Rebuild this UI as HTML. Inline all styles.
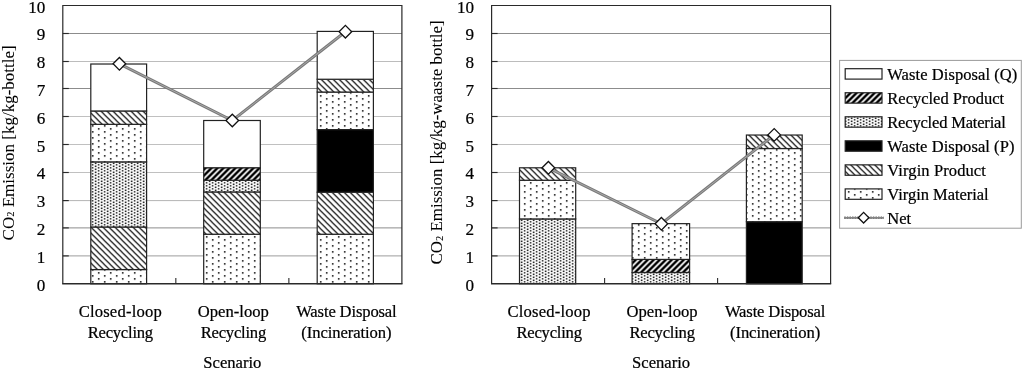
<!DOCTYPE html>
<html><head><meta charset="utf-8"><title>CO2 Emission by Scenario</title>
<style>
html,body{margin:0;padding:0;background:#fff;}
body{width:1024px;height:369px;overflow:hidden;}
svg{display:block;}
text{font-family:"Liberation Serif","Times New Roman",serif;fill:#000;stroke:#000;stroke-width:0.22px;}
</style></head><body>
<svg width="1024" height="369" viewBox="0 0 1024 369">
<defs>
<pattern id="sp" patternUnits="userSpaceOnUse" x="1.9" y="2.1" width="12" height="6">
<rect x="0" y="0" width="1.6" height="1.6" fill="#1a1a1a"/><rect x="6" y="3" width="1.6" height="1.6" fill="#1a1a1a"/>
</pattern>
<pattern id="dn" patternUnits="userSpaceOnUse" x="1.8" y="2.1" width="6" height="3">
<rect x="0" y="0" width="1.5" height="1.5" fill="#1a1a1a"/><rect x="3.05" y="1.5" width="1.5" height="1.5" fill="#000"/>
</pattern>
<pattern id="bh" patternUnits="userSpaceOnUse" x="1.8" width="6" height="6">
<path d="M-1,-1 L7,7 M-1,5 L1,7 M5,-1 L7,1" stroke="#1c1c1c" stroke-width="1.25"/>
</pattern>
<pattern id="fh" patternUnits="userSpaceOnUse" x="1.5" width="6" height="6">
<path d="M-1,7 L7,-1 M-1,1 L1,-1 M5,7 L7,5" stroke="#000" stroke-width="2.5"/>
</pattern>
</defs>
<rect width="1024" height="369" fill="#fff"/>

<line x1="62.8" y1="255.90" x2="401.9" y2="255.90" stroke="#9c9c9c" stroke-width="1"/>
<line x1="62.8" y1="227.90" x2="401.9" y2="227.90" stroke="#8c8c8c" stroke-width="1"/>
<line x1="62.8" y1="200.60" x2="401.9" y2="200.60" stroke="#b4b4b4" stroke-width="1"/>
<line x1="62.8" y1="172.50" x2="401.9" y2="172.50" stroke="#c0c0c0" stroke-width="1"/>
<line x1="62.8" y1="144.50" x2="401.9" y2="144.50" stroke="#c0c0c0" stroke-width="1"/>
<line x1="62.8" y1="116.50" x2="401.9" y2="116.50" stroke="#c0c0c0" stroke-width="1"/>
<line x1="62.8" y1="88.50" x2="401.9" y2="88.50" stroke="#8c8c8c" stroke-width="1"/>
<line x1="62.8" y1="61.50" x2="401.9" y2="61.50" stroke="#bcbcbc" stroke-width="1"/>
<line x1="62.8" y1="33.50" x2="401.9" y2="33.50" stroke="#8c8c8c" stroke-width="1"/>
<rect x="90.80" y="269.56" width="55.80" height="14.19" fill="#fff"/>
<rect x="90.80" y="269.56" width="55.80" height="14.19" fill="url(#sp)" stroke="#222" stroke-width="1.2"/>
<rect x="90.80" y="226.99" width="55.80" height="42.57" fill="#fff"/>
<rect x="90.80" y="226.99" width="55.80" height="42.57" fill="url(#bh)" stroke="#222" stroke-width="1.2"/>
<rect x="90.80" y="161.88" width="55.80" height="65.11" fill="#fff"/>
<rect x="90.80" y="161.88" width="55.80" height="65.11" fill="url(#dn)" stroke="#222" stroke-width="1.2"/>
<rect x="90.80" y="124.31" width="55.80" height="37.56" fill="#fff"/>
<rect x="90.80" y="124.31" width="55.80" height="37.56" fill="url(#sp)" stroke="#222" stroke-width="1.2"/>
<rect x="90.80" y="110.96" width="55.80" height="13.36" fill="#fff"/>
<rect x="90.80" y="110.96" width="55.80" height="13.36" fill="url(#bh)" stroke="#222" stroke-width="1.2"/>
<rect x="90.80" y="64.02" width="55.80" height="46.94" fill="#fff"/>
<rect x="90.80" y="64.02" width="55.80" height="46.94" fill="#fff" stroke="#222" stroke-width="1.2"/>
<rect x="203.70" y="234.22" width="56.60" height="49.53" fill="#fff"/>
<rect x="203.70" y="234.22" width="56.60" height="49.53" fill="url(#sp)" stroke="#222" stroke-width="1.2"/>
<rect x="203.70" y="191.93" width="56.60" height="42.29" fill="#fff"/>
<rect x="203.70" y="191.93" width="56.60" height="42.29" fill="url(#bh)" stroke="#222" stroke-width="1.2"/>
<rect x="203.70" y="180.24" width="56.60" height="11.69" fill="#fff"/>
<rect x="203.70" y="180.24" width="56.60" height="11.69" fill="url(#dn)" stroke="#222" stroke-width="1.2"/>
<rect x="203.70" y="167.72" width="56.60" height="12.52" fill="#fff"/>
<rect x="203.70" y="167.72" width="56.60" height="12.52" fill="url(#fh)" stroke="#222" stroke-width="1.2"/>
<rect x="203.70" y="120.50" width="56.60" height="47.22" fill="#fff"/>
<rect x="203.70" y="120.50" width="56.60" height="47.22" fill="#fff" stroke="#222" stroke-width="1.2"/>
<rect x="317.20" y="234.22" width="56.20" height="49.53" fill="#fff"/>
<rect x="317.20" y="234.22" width="56.20" height="49.53" fill="url(#sp)" stroke="#222" stroke-width="1.2"/>
<rect x="317.20" y="192.21" width="56.20" height="42.02" fill="#fff"/>
<rect x="317.20" y="192.21" width="56.20" height="42.02" fill="url(#bh)" stroke="#222" stroke-width="1.2"/>
<rect x="317.20" y="129.60" width="56.20" height="62.61" fill="#fff"/>
<rect x="317.20" y="129.60" width="56.20" height="62.61" fill="#000" stroke="#222" stroke-width="1.2"/>
<rect x="317.20" y="92.04" width="56.20" height="37.56" fill="#fff"/>
<rect x="317.20" y="92.04" width="56.20" height="37.56" fill="url(#sp)" stroke="#222" stroke-width="1.2"/>
<rect x="317.20" y="79.24" width="56.20" height="12.80" fill="#fff"/>
<rect x="317.20" y="79.24" width="56.20" height="12.80" fill="url(#bh)" stroke="#222" stroke-width="1.2"/>
<rect x="317.20" y="31.41" width="56.20" height="47.83" fill="#fff"/>
<rect x="317.20" y="31.41" width="56.20" height="47.83" fill="#fff" stroke="#222" stroke-width="1.2"/>
<path d="M62.8,283.75 L62.8,5.5 L401.9,5.5 L401.9,283.75" fill="none" stroke="#2a2a2a" stroke-width="1.2"/>
<line x1="62.199999999999996" y1="283.75" x2="402.5" y2="283.75" stroke="#2a2a2a" stroke-width="1.5"/>
<line x1="62.8" y1="255.90" x2="68.8" y2="255.90" stroke="#2a2a2a" stroke-width="1.15"/>
<line x1="62.8" y1="227.90" x2="68.8" y2="227.90" stroke="#2a2a2a" stroke-width="1.15"/>
<line x1="62.8" y1="200.60" x2="68.8" y2="200.60" stroke="#2a2a2a" stroke-width="1.15"/>
<line x1="62.8" y1="172.50" x2="68.8" y2="172.50" stroke="#2a2a2a" stroke-width="1.15"/>
<line x1="62.8" y1="144.50" x2="68.8" y2="144.50" stroke="#2a2a2a" stroke-width="1.15"/>
<line x1="62.8" y1="116.50" x2="68.8" y2="116.50" stroke="#2a2a2a" stroke-width="1.15"/>
<line x1="62.8" y1="88.50" x2="68.8" y2="88.50" stroke="#2a2a2a" stroke-width="1.15"/>
<line x1="62.8" y1="61.50" x2="68.8" y2="61.50" stroke="#2a2a2a" stroke-width="1.15"/>
<line x1="62.8" y1="33.50" x2="68.8" y2="33.50" stroke="#2a2a2a" stroke-width="1.15"/>
<line x1="175.83" y1="283.75" x2="175.83" y2="277.95" stroke="#2a2a2a" stroke-width="1.1"/>
<line x1="288.87" y1="283.75" x2="288.87" y2="277.95" stroke="#2a2a2a" stroke-width="1.1"/>
<polyline points="119.40,63.80 232.30,120.50 345.40,31.70" fill="none" stroke="#7a7a7a" stroke-width="3"/>
<polyline points="119.40,63.80 232.30,120.50 345.40,31.70" fill="none" stroke="#a8a8a8" stroke-width="1"/>
<path d="M113.10,63.80 L119.40,57.50 L125.70,63.80 L119.40,70.10 Z" fill="#fff" stroke="#111" stroke-width="1.3"/>
<path d="M226.00,120.50 L232.30,114.20 L238.60,120.50 L232.30,126.80 Z" fill="#fff" stroke="#111" stroke-width="1.3"/>
<path d="M339.10,31.70 L345.40,25.40 L351.70,31.70 L345.40,38.00 Z" fill="#fff" stroke="#111" stroke-width="1.3"/>
<text x="45.30" y="290.75" font-size="17.1" text-anchor="end">0</text>
<text x="45.30" y="262.93" font-size="17.1" text-anchor="end">1</text>
<text x="45.30" y="235.10" font-size="17.1" text-anchor="end">2</text>
<text x="45.30" y="207.28" font-size="17.1" text-anchor="end">3</text>
<text x="45.30" y="179.45" font-size="17.1" text-anchor="end">4</text>
<text x="45.30" y="151.62" font-size="17.1" text-anchor="end">5</text>
<text x="45.30" y="123.80" font-size="17.1" text-anchor="end">6</text>
<text x="45.30" y="95.97" font-size="17.1" text-anchor="end">7</text>
<text x="45.30" y="68.15" font-size="17.1" text-anchor="end">8</text>
<text x="45.30" y="40.33" font-size="17.1" text-anchor="end">9</text>
<text x="45.30" y="12.50" font-size="17.1" text-anchor="end">10</text>
<text x="120.32" y="317" font-size="16.6" text-anchor="middle" letter-spacing="0.2">Closed-loop</text>
<text x="120.32" y="338.1" font-size="16.6" text-anchor="middle" letter-spacing="-0.22">Recycling</text>
<text x="233.35" y="317" font-size="16.6" text-anchor="middle" letter-spacing="0.0">Open-loop</text>
<text x="233.35" y="338.1" font-size="16.6" text-anchor="middle" letter-spacing="-0.22">Recycling</text>
<text x="346.38" y="317" font-size="16.6" text-anchor="middle" letter-spacing="-0.14">Waste Disposal</text>
<text x="346.38" y="338.1" font-size="16.6" text-anchor="middle" letter-spacing="-0.07">(Incineration)</text>
<text x="232.35" y="367.6" font-size="16.6" text-anchor="middle">Scenario</text>
<text transform="translate(13.9,240.4) rotate(-90)" font-size="17.0" style="stroke-width:0.05px">CO<tspan font-size="10.5" dy="0.5">2</tspan><tspan dy="-0.5"> Emission [kg/kg-bottle]</tspan></text>
<line x1="491.6" y1="255.90" x2="830.6" y2="255.90" stroke="#9c9c9c" stroke-width="1"/>
<line x1="491.6" y1="227.90" x2="830.6" y2="227.90" stroke="#8c8c8c" stroke-width="1"/>
<line x1="491.6" y1="200.60" x2="830.6" y2="200.60" stroke="#b4b4b4" stroke-width="1"/>
<line x1="491.6" y1="172.50" x2="830.6" y2="172.50" stroke="#c0c0c0" stroke-width="1"/>
<line x1="491.6" y1="144.50" x2="830.6" y2="144.50" stroke="#c0c0c0" stroke-width="1"/>
<line x1="491.6" y1="116.50" x2="830.6" y2="116.50" stroke="#c0c0c0" stroke-width="1"/>
<line x1="491.6" y1="88.50" x2="830.6" y2="88.50" stroke="#8c8c8c" stroke-width="1"/>
<line x1="491.6" y1="61.50" x2="830.6" y2="61.50" stroke="#bcbcbc" stroke-width="1"/>
<line x1="491.6" y1="33.50" x2="830.6" y2="33.50" stroke="#8c8c8c" stroke-width="1"/>
<rect x="519.50" y="218.92" width="56.20" height="64.83" fill="#fff"/>
<rect x="519.50" y="218.92" width="56.20" height="64.83" fill="url(#dn)" stroke="#222" stroke-width="1.2"/>
<rect x="519.50" y="180.24" width="56.20" height="38.68" fill="#fff"/>
<rect x="519.50" y="180.24" width="56.20" height="38.68" fill="url(#sp)" stroke="#222" stroke-width="1.2"/>
<rect x="519.50" y="167.80" width="56.20" height="12.44" fill="#fff"/>
<rect x="519.50" y="167.80" width="56.20" height="12.44" fill="url(#bh)" stroke="#222" stroke-width="1.2"/>
<rect x="632.10" y="272.48" width="57.50" height="11.27" fill="#fff"/>
<rect x="632.10" y="272.48" width="57.50" height="11.27" fill="url(#dn)" stroke="#222" stroke-width="1.2"/>
<rect x="632.10" y="259.40" width="57.50" height="13.08" fill="#fff"/>
<rect x="632.10" y="259.40" width="57.50" height="13.08" fill="url(#fh)" stroke="#222" stroke-width="1.2"/>
<rect x="632.10" y="223.65" width="57.50" height="35.76" fill="#fff"/>
<rect x="632.10" y="223.65" width="57.50" height="35.76" fill="url(#sp)" stroke="#222" stroke-width="1.2"/>
<rect x="746.40" y="221.70" width="55.80" height="62.05" fill="#fff"/>
<rect x="746.40" y="221.70" width="55.80" height="62.05" fill="#000" stroke="#222" stroke-width="1.2"/>
<rect x="746.40" y="148.52" width="55.80" height="73.18" fill="#fff"/>
<rect x="746.40" y="148.52" width="55.80" height="73.18" fill="url(#sp)" stroke="#222" stroke-width="1.2"/>
<rect x="746.40" y="135.03" width="55.80" height="13.50" fill="#fff"/>
<rect x="746.40" y="135.03" width="55.80" height="13.50" fill="url(#bh)" stroke="#222" stroke-width="1.2"/>
<path d="M491.6,283.75 L491.6,5.5 L830.6,5.5 L830.6,283.75" fill="none" stroke="#2a2a2a" stroke-width="1.2"/>
<line x1="491.0" y1="283.75" x2="831.2" y2="283.75" stroke="#2a2a2a" stroke-width="1.5"/>
<line x1="491.6" y1="255.90" x2="497.6" y2="255.90" stroke="#2a2a2a" stroke-width="1.15"/>
<line x1="491.6" y1="227.90" x2="497.6" y2="227.90" stroke="#2a2a2a" stroke-width="1.15"/>
<line x1="491.6" y1="200.60" x2="497.6" y2="200.60" stroke="#2a2a2a" stroke-width="1.15"/>
<line x1="491.6" y1="172.50" x2="497.6" y2="172.50" stroke="#2a2a2a" stroke-width="1.15"/>
<line x1="491.6" y1="144.50" x2="497.6" y2="144.50" stroke="#2a2a2a" stroke-width="1.15"/>
<line x1="491.6" y1="116.50" x2="497.6" y2="116.50" stroke="#2a2a2a" stroke-width="1.15"/>
<line x1="491.6" y1="88.50" x2="497.6" y2="88.50" stroke="#2a2a2a" stroke-width="1.15"/>
<line x1="491.6" y1="61.50" x2="497.6" y2="61.50" stroke="#2a2a2a" stroke-width="1.15"/>
<line x1="491.6" y1="33.50" x2="497.6" y2="33.50" stroke="#2a2a2a" stroke-width="1.15"/>
<line x1="604.60" y1="283.75" x2="604.60" y2="277.95" stroke="#2a2a2a" stroke-width="1.1"/>
<line x1="717.60" y1="283.75" x2="717.60" y2="277.95" stroke="#2a2a2a" stroke-width="1.1"/>
<polyline points="548.40,167.80 661.40,223.80 774.20,134.90" fill="none" stroke="#7a7a7a" stroke-width="3"/>
<polyline points="548.40,167.80 661.40,223.80 774.20,134.90" fill="none" stroke="#a8a8a8" stroke-width="1"/>
<path d="M542.10,167.80 L548.40,161.50 L554.70,167.80 L548.40,174.10 Z" fill="#fff" stroke="#111" stroke-width="1.3"/>
<path d="M655.10,223.80 L661.40,217.50 L667.70,223.80 L661.40,230.10 Z" fill="#fff" stroke="#111" stroke-width="1.3"/>
<path d="M767.90,134.90 L774.20,128.60 L780.50,134.90 L774.20,141.20 Z" fill="#fff" stroke="#111" stroke-width="1.3"/>
<text x="474.10" y="290.75" font-size="17.1" text-anchor="end">0</text>
<text x="474.10" y="262.93" font-size="17.1" text-anchor="end">1</text>
<text x="474.10" y="235.10" font-size="17.1" text-anchor="end">2</text>
<text x="474.10" y="207.28" font-size="17.1" text-anchor="end">3</text>
<text x="474.10" y="179.45" font-size="17.1" text-anchor="end">4</text>
<text x="474.10" y="151.62" font-size="17.1" text-anchor="end">5</text>
<text x="474.10" y="123.80" font-size="17.1" text-anchor="end">6</text>
<text x="474.10" y="95.97" font-size="17.1" text-anchor="end">7</text>
<text x="474.10" y="68.15" font-size="17.1" text-anchor="end">8</text>
<text x="474.10" y="40.33" font-size="17.1" text-anchor="end">9</text>
<text x="474.10" y="12.50" font-size="17.1" text-anchor="end">10</text>
<text x="549.10" y="317" font-size="16.6" text-anchor="middle" letter-spacing="0.2">Closed-loop</text>
<text x="549.10" y="338.1" font-size="16.6" text-anchor="middle" letter-spacing="-0.22">Recycling</text>
<text x="662.10" y="317" font-size="16.6" text-anchor="middle" letter-spacing="0.0">Open-loop</text>
<text x="662.10" y="338.1" font-size="16.6" text-anchor="middle" letter-spacing="-0.22">Recycling</text>
<text x="775.10" y="317" font-size="16.6" text-anchor="middle" letter-spacing="-0.14">Waste Disposal</text>
<text x="775.10" y="338.1" font-size="16.6" text-anchor="middle" letter-spacing="-0.07">(Incineration)</text>
<text x="661.10" y="367.6" font-size="16.6" text-anchor="middle">Scenario</text>
<text transform="translate(442.4,264.4) rotate(-90)" font-size="16.9" style="stroke-width:0.05px">CO<tspan font-size="10.5" dy="0.5">2</tspan><tspan dy="-0.5"> Emission [kg/kg-waaste bottle]</tspan></text>
<rect x="839.6" y="60.4" width="181.7" height="167.8" fill="#fff" stroke="#9a9a9a" stroke-width="1"/>
<rect x="845.2" y="68.70" width="36.8" height="10.4" fill="#fff"/>
<rect x="845.2" y="68.70" width="36.8" height="10.4" fill="#fff" stroke="#222" stroke-width="1.2"/>
<text x="887.3" y="80.25" font-size="16.5" letter-spacing="0.07">Waste Disposal (Q)</text>
<rect x="845.2" y="92.74" width="36.8" height="10.4" fill="#fff"/>
<rect x="845.2" y="92.74" width="36.8" height="10.4" fill="url(#fh)" stroke="#222" stroke-width="1.2"/>
<text x="887.3" y="104.25" font-size="16.5" letter-spacing="0.0">Recycled Product</text>
<rect x="845.2" y="116.78" width="36.8" height="10.4" fill="#fff"/>
<rect x="845.2" y="116.78" width="36.8" height="10.4" fill="url(#dn)" stroke="#222" stroke-width="1.2"/>
<text x="887.3" y="128.25" font-size="16.5" letter-spacing="-0.18">Recycled Material</text>
<rect x="845.2" y="140.82" width="36.8" height="10.4" fill="#fff"/>
<rect x="845.2" y="140.82" width="36.8" height="10.4" fill="#000" stroke="#222" stroke-width="1.2"/>
<text x="887.3" y="152.25" font-size="16.5" letter-spacing="0.06">Waste Disposal (P)</text>
<rect x="845.2" y="164.86" width="36.8" height="10.4" fill="#fff"/>
<rect x="845.2" y="164.86" width="36.8" height="10.4" fill="url(#bh)" stroke="#222" stroke-width="1.2"/>
<text x="887.3" y="176.25" font-size="16.5" letter-spacing="0.1">Virgin Product</text>
<rect x="845.2" y="188.90" width="36.8" height="10.4" fill="#fff"/>
<rect x="845.2" y="188.90" width="36.8" height="10.4" fill="url(#sp)" stroke="#222" stroke-width="1.2"/>
<text x="887.3" y="200.25" font-size="16.5" letter-spacing="-0.03">Virgin Material</text>
<line x1="844.3" y1="217.80" x2="883.8" y2="217.80" stroke="#606060" stroke-width="2.4" stroke-dasharray="1.4 1.2"/>
<line x1="844.3" y1="217.80" x2="883.8" y2="217.80" stroke="#858585" stroke-width="1.7"/>
<path d="M858.30,217.70 L863.60,212.40 L868.90,217.70 L863.60,223.00 Z" fill="#fff" stroke="#111" stroke-width="1.3"/>
<text x="887.3" y="224.25" font-size="16.5">Net</text>
</svg></body></html>
